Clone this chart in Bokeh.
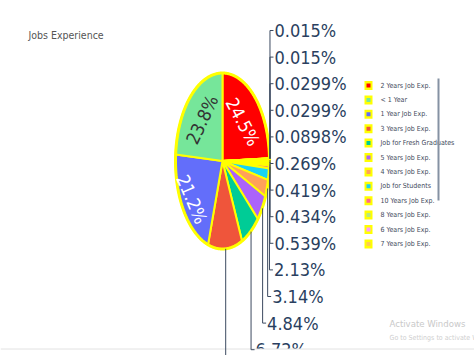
import numpy as np
from bokeh.plotting import figure
from bokeh.models import Range1d
from bokeh.core.properties import value
from bokeh.embed import file_html
from bokeh.resources import INLINE

W, H = 474, 355

# ---------------- data ----------------
title_text = "Jobs Experience"
categories = ["2 Years Job Exp.", "< 1 Year", "1 Year Job Exp.", "3 Years Job Exp.",
              "Job for Fresh Graduates", "5 Years Job Exp.", "4 Years Job Exp.",
              "Job for Students", "10 Years Job Exp.", "8 Years Job Exp.",
              "6 Years Job Exp.", "7 Years Job Exp."]
# shares in %, legend (descending) order; last five belong to legend rows hidden by the scroll
shares = [24.5, 23.8, 21.2, 11.8, 6.72, 4.84, 3.14, 2.13, 0.539, 0.434, 0.419,
          0.269, 0.0898, 0.0299, 0.0299, 0.015, 0.015]
colors = ["#ff0000", "#76e69a", "#636efa", "#ef553b", "#00cc96", "#ab63fa", "#ffa15a",
          "#19d3f3", "#ff6692", "#b6e880", "#ff97ff", "#fecb52",
          "#636efa", "#ef553b", "#00cc96", "#ab63fa", "#ffa15a"]
watermark = ["Activate Windows", "Go to Settings to activate Windows."]

# ---------------- layout / style ----------------
CX, CY = 222.0, 160.5       # pie centre (px from top-left)
RX, RY = 47.0, 88.0         # squashed pie radii
FONT = "'Liberation Sans Narrow', 'DejaVu Sans Condensed', 'Liberation Sans', sans-serif"
TXT = "#2a3f5f"
YEL = "#ffff00"

def Y(ypx):
    return H - np.asarray(ypx, dtype=float)

def ell(t, f=1.0):
    a = 2 * np.pi * np.asarray(t)
    return CX + f * RX * np.sin(a), CY - f * RY * np.cos(a)

p = figure(width=W, height=H, x_range=Range1d(0, W), y_range=Range1d(0, H),
           output_backend="svg", toolbar_location=None,
           x_axis_type=None, y_axis_type=None, min_border=0)
p.grid.visible = False
p.outline_line_color = None
p.background_fill_color = "white"
p.border_fill_color = "white"

# clockwise order from 12 o'clock: largest first, then the rest ascending
n = len(shares)
order = [0] + list(range(n - 1, 0, -1))
tot = float(sum(shares))
start, mid = {}, {}
acc = 0.0
for i in order:
    frac = shares[i] / tot
    start[i] = acc
    mid[i] = acc + frac / 2
    acc += frac

xs, ys, fc = [], [], []
for i in order:
    frac = shares[i] / tot
    k = max(3, int(frac * 360))
    t = np.linspace(start[i], start[i] + frac, k)
    ex, ey = ell(t)
    xs.append(np.concatenate([[CX], ex]).tolist())
    ys.append(Y(np.concatenate([[CY], ey])).tolist())
    fc.append(colors[i])
p.patches(xs, ys, fill_color=fc, line_color=YEL, line_width=2)
tt = np.linspace(0, 1, 400)
ox, oy = ell(tt)
p.line(ox, Y(oy), line_color=YEL, line_width=3)

# inside labels (three biggest slices)
inside = [0, 1, 2]
in_f = [0.62, 0.64, 0.78]
in_ang = [-62, 65, -67]
in_col = ["white", "#333333", "white"]
ix, iy = [], []
for i, f in zip(inside, in_f):
    x, y = ell(mid[i], f)
    ix.append(float(x)); iy.append(float(Y(y)))
p.text(x=ix, y=iy, text=[f"{shares[i]:.3g}%" for i in inside],
       angle=[np.deg2rad(a) for a in in_ang], text_color=in_col,
       text_font=value(FONT), text_font_size="18px",
       text_align="center", text_baseline="middle")

# outside labels with leader lines
outside = [i for i in order if i not in inside]
LAB_TOP, LAB_STEP = 30.0, 26.6
lx, ly, lt, mxs, mys = [], [], [], [], []
for k, i in enumerate(outside):
    ex, ey = ell(mid[i])
    ex, ey = float(ex) + 0.5, float(ey)
    yl = LAB_TOP + k * LAB_STEP
    mxs.append([ex, ex, ex + 3.5])
    mys.append(Y([ey, yl, yl]).tolist())
    lx.append(ex + 4.5); ly.append(float(Y(yl))); lt.append(f"{shares[i]:.3g}%")
p.text(x=lx, y=ly, text=lt, text_color=TXT, text_font=value(FONT),
       text_font_size="18px", text_align="left", text_baseline="middle")

# screenshot cut at the bottom
p.quad(left=0, right=W, bottom=0, top=float(Y(348.5)), fill_color="white", line_color=None)
p.line([0, W], [float(Y(348.5))] * 2, line_color="#e2e2e2", line_width=1)

p.multi_line(mxs, mys, line_color="#3c4a60", line_width=1)

# title
p.text(x=[28], y=[float(Y(34))], text=[title_text], text_color="#555555",
       text_font=value(FONT), text_font_size="10.5px", text_baseline="middle")

# legend
LEG_X, LEG_Y, LEG_STEP = 368.0, 85.0, 14.4
m = len(categories)
gy = [float(Y(LEG_Y + j * LEG_STEP)) for j in range(m)]
p.rect(x=[LEG_X] * m, y=gy, width=8, height=9, fill_color=YEL, line_color=None)
p.rect(x=[LEG_X] * m, y=gy, width=4, height=4, fill_color=colors[:m], line_color=None)
p.text(x=[LEG_X + 12] * m, y=gy, text=categories, text_color="#3f4a5c",
       text_font=value(FONT), text_font_size="7px", text_baseline="middle")
p.line([438, 438], [float(Y(78)), float(Y(200))], line_color="#8592a3", line_width=2)

# watermark
p.text(x=[389], y=[float(Y(323))], text=[watermark[0]], text_color="#c9c9c9",
       text_font=value(FONT), text_font_size="9.5px", text_baseline="middle")
p.text(x=[389], y=[float(Y(337))], text=[watermark[1]], text_color="#cfcfcf",
       text_font=value(FONT), text_font_size="7px", text_baseline="middle")

open("out.html", "w").write(file_html(p, INLINE))
